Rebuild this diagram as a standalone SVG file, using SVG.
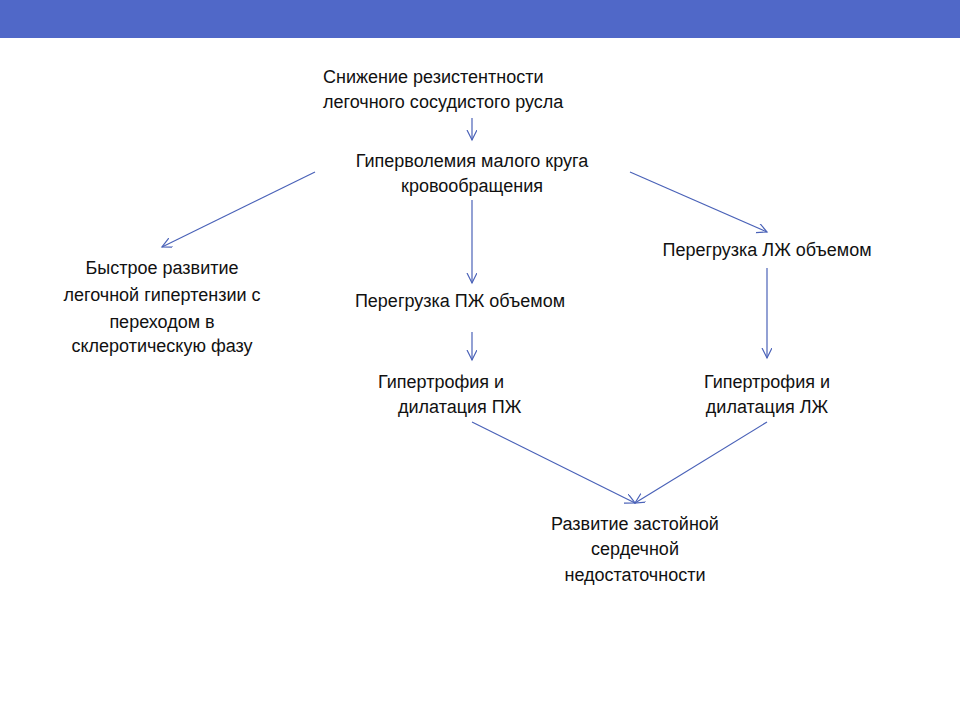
<svg xmlns="http://www.w3.org/2000/svg" width="960" height="720" viewBox="0 0 960 720">
<style>
text{font-family:"Liberation Sans",Arial,sans-serif;font-size:18px;fill:#111}
.c{text-anchor:middle}
.e{stroke:#4a62b8;stroke-width:1.2;fill:none;marker-end:url(#a)}
</style>
<defs><marker id="a" markerWidth="12" markerHeight="12" refX="10" refY="5" orient="auto" markerUnits="userSpaceOnUse"><path d="M0,0 L10,5 L0,10" fill="none" stroke="#4a62b8" stroke-width="1.2"/></marker></defs>
<rect width="960" height="720" fill="#fff"/>
<rect width="960" height="38" fill="#5068c8"/>
<g id="n1"><text x="323" y="83">Снижение резистентности</text><text x="323" y="108">легочного сосудистого русла</text></g>
<g id="n2"><text class="c" x="472" y="167">Гиперволемия малого круга</text><text class="c" x="472" y="192">кровообращения</text></g>
<g id="n3"><text class="c" x="162" y="274">Быстрое развитие</text><text class="c" x="162" y="301">легочной гипертензии с</text><text class="c" x="162" y="328">переходом в</text><text class="c" x="162" y="352">склеротическую фазу</text></g>
<g id="n4"><text class="c" x="460" y="307">Перегрузка ПЖ объемом</text></g>
<g id="n5"><text class="c" x="767" y="256">Перегрузка ЛЖ объемом</text></g>
<g id="n6"><text x="378" y="388">Гипертрофия и</text><text x="398" y="413">дилатация ПЖ</text></g>
<g id="n7"><text class="c" x="767" y="388">Гипертрофия и</text><text class="c" x="767" y="413">дилатация ЛЖ</text></g>
<g id="n8"><text class="c" x="635" y="530">Развитие застойной</text><text class="c" x="635" y="555">сердечной</text><text class="c" x="635" y="581">недостаточности</text></g>
<g id="edges">
<line class="e" x1="472" y1="118" x2="472" y2="140"/>
<line class="e" x1="315" y1="172" x2="162" y2="247"/>
<line class="e" x1="472" y1="200" x2="472" y2="283"/>
<line class="e" x1="630" y1="172" x2="767" y2="232"/>
<line class="e" x1="472" y1="332" x2="472" y2="360"/>
<line class="e" x1="767" y1="268" x2="767" y2="358"/>
<line class="e" x1="472" y1="422" x2="635" y2="503"/>
<line class="e" x1="767" y1="422" x2="635" y2="503"/>
</g>
</svg>
